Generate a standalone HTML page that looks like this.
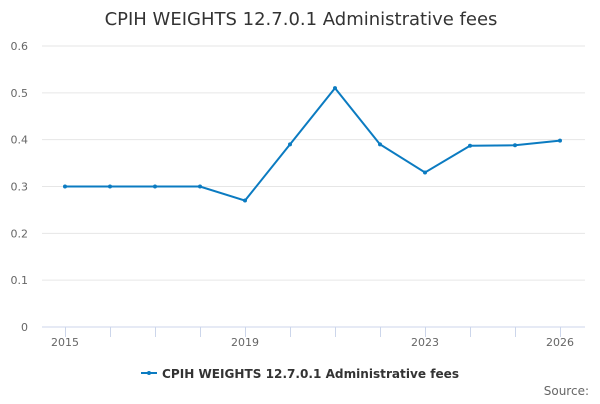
<!DOCTYPE html>
<html><head><meta charset="utf-8"><style>
body{margin:0;background:#fff;font-family:"DejaVu Sans","Liberation Sans",sans-serif}
</style></head><body>
<svg id="c" width="600" height="400" xmlns="http://www.w3.org/2000/svg">
<text x="301" y="25" text-anchor="middle" font-size="18" fill="#333">CPIH WEIGHTS 12.7.0.1 Administrative fees</text>
<g id="grid"></g><g id="xaxis"></g><g id="series"></g>
<g>
<line x1="141" y1="373" x2="157" y2="373" stroke="#0b7bc1" stroke-width="2"/>
<circle cx="149" cy="373" r="2" fill="#0b7bc1"/>
<text x="162" y="378" font-size="12" font-weight="bold" fill="#333" textLength="297" lengthAdjust="spacingAndGlyphs">CPIH WEIGHTS 12.7.0.1 Administrative fees</text>
</g>
<text x="589" y="395" text-anchor="end" font-size="12" fill="#666">Source:</text>
</svg>
<script>
const years=[2015,2016,2017,2018,2019,2020,2021,2022,2023,2024,2025,2026];
const values=[0.3,0.3,0.3,0.3,0.27,0.39,0.51,0.39,0.33,0.387,0.388,0.398];
const yTicks=[0,0.1,0.2,0.3,0.4,0.5,0.6];
const xLabels=[2015,2019,2023,2026];
const NS="http://www.w3.org/2000/svg";
const x=v=>65+(v-2015)*45;
const y=v=>327-v/0.6*281;
function mk(t,a,p){const e=document.createElementNS(NS,t);for(const k in a)e.setAttribute(k,a[k]);p.appendChild(e);return e;}
const g=document.getElementById('grid'),xa=document.getElementById('xaxis'),s=document.getElementById('series');
yTicks.forEach(v=>{
 if(v>0){const l=mk('line',{x1:42,x2:585,y1:y(v),y2:y(v),stroke:'#e6e6e6'},g);
 
 }
 const t=mk('text',{x:28,y:y(v)+4,'text-anchor':'end','font-size':11,fill:'#666'},g);t.textContent=v;
 
 
});
const ax=mk('line',{x1:42,x2:585,y1:327,y2:327,stroke:'#ccd6eb'},xa);


years.forEach(v=>{const l=mk('line',{x1:x(v)+0.5,x2:x(v)+0.5,y1:327,y2:337,stroke:'#ccd6eb'},xa);
 
 });
xLabels.forEach(v=>{const t=mk('text',{x:x(v),y:346,'text-anchor':'middle','font-size':11,fill:'#666'},xa);t.textContent=v;
 
 });
const p=mk('polyline',{points:years.map((v,i)=>x(v)+','+y(values[i])).join(' '),fill:'none',stroke:'#0b7bc1','stroke-width':2},s);


years.forEach((v,i)=>{const c=mk('circle',{cx:x(v),cy:y(values[i]),r:2,fill:'#0b7bc1'},s);
 
 });
</script>
</body></html>
